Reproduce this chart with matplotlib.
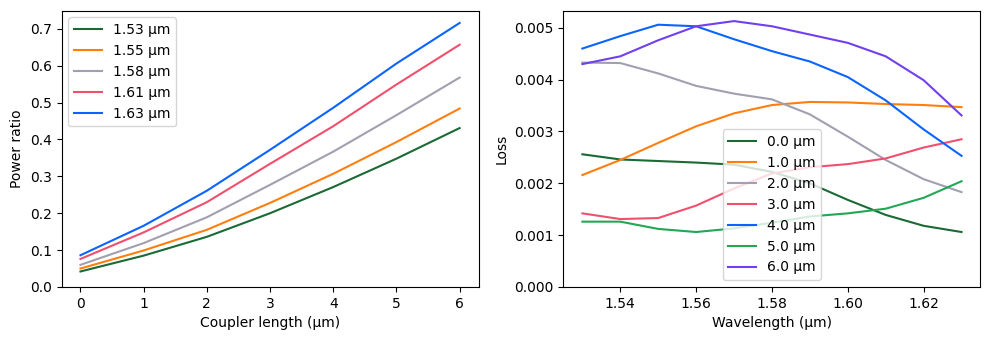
import matplotlib
matplotlib.use("Agg")
import matplotlib.pyplot as plt

# coupler length sweep (um) and power ratio per wavelength
coupler_length = [0, 1, 2, 3, 4, 5, 6]
ratio_153 = [0.042, 0.085, 0.136, 0.200, 0.271, 0.348, 0.431]
ratio_155 = [0.050, 0.099, 0.155, 0.228, 0.307, 0.393, 0.484]
ratio_158 = [0.060, 0.119, 0.189, 0.277, 0.367, 0.466, 0.568]
ratio_161 = [0.076, 0.148, 0.230, 0.334, 0.436, 0.549, 0.657]
ratio_163 = [0.086, 0.166, 0.261, 0.372, 0.486, 0.606, 0.716]
wl_labels = ["1.53 µm", "1.55 µm", "1.58 µm", "1.61 µm", "1.63 µm"]

# wavelength sweep (um) and loss per coupler length
wavelength = [1.53, 1.54, 1.55, 1.56, 1.57, 1.58, 1.59, 1.60, 1.61, 1.62, 1.63]
loss_0 = [0.00256, 0.00246, 0.00243, 0.00240, 0.00236, 0.00222, 0.00200, 0.00168, 0.00139, 0.00118, 0.00106]
loss_1 = [0.00216, 0.00245, 0.00278, 0.00310, 0.00335, 0.00351, 0.00357, 0.00356, 0.00353, 0.00351, 0.00347]
loss_2 = [0.00433, 0.00432, 0.00412, 0.00388, 0.00373, 0.00362, 0.00333, 0.00290, 0.00245, 0.00208, 0.00183]
loss_3 = [0.00142, 0.00131, 0.00133, 0.00157, 0.00190, 0.00219, 0.00231, 0.00237, 0.00248, 0.00269, 0.00285]
loss_4 = [0.00460, 0.00484, 0.00506, 0.00503, 0.00478, 0.00455, 0.00435, 0.00405, 0.00360, 0.00304, 0.00253]
loss_5 = [0.00126, 0.00126, 0.00112, 0.00106, 0.00113, 0.00124, 0.00136, 0.00142, 0.00151, 0.00172, 0.00204]
loss_6 = [0.00430, 0.00445, 0.00476, 0.00503, 0.00513, 0.00503, 0.00487, 0.00471, 0.00445, 0.00399, 0.00331]
len_labels = ["0.0 µm", "1.0 µm", "2.0 µm", "3.0 µm", "4.0 µm", "5.0 µm", "6.0 µm"]

colors = ["#1a6a35", "#ff7f0e", "#a0a0b0", "#f0506e", "#0a64ff", "#22a855", "#7040f0"]

fig, (ax1, ax2) = plt.subplots(1, 2, figsize=(9.89, 3.4), dpi=100)
fig.subplots_adjust(left=0.0622, right=0.9914, top=0.969, bottom=0.156, wspace=0.2034)

for i, ys in enumerate([ratio_153, ratio_155, ratio_158, ratio_161, ratio_163]):
    ax1.plot(coupler_length, ys, color=colors[i], label=wl_labels[i])
ax1.set_ylim(bottom=0)
ax1.set_xlabel("Coupler length (µm)")
ax1.set_ylabel("Power ratio")
ax1.legend(loc="upper left")

for i, ys in enumerate([loss_0, loss_1, loss_2, loss_3, loss_4, loss_5, loss_6]):
    ax2.plot(wavelength, ys, color=colors[i], label=len_labels[i])
ax2.set_ylim(bottom=0)
ax2.set_xlabel("Wavelength (µm)")
ax2.set_ylabel("Loss")
ax2.legend(loc="lower center")

plt.savefig("out.png")
